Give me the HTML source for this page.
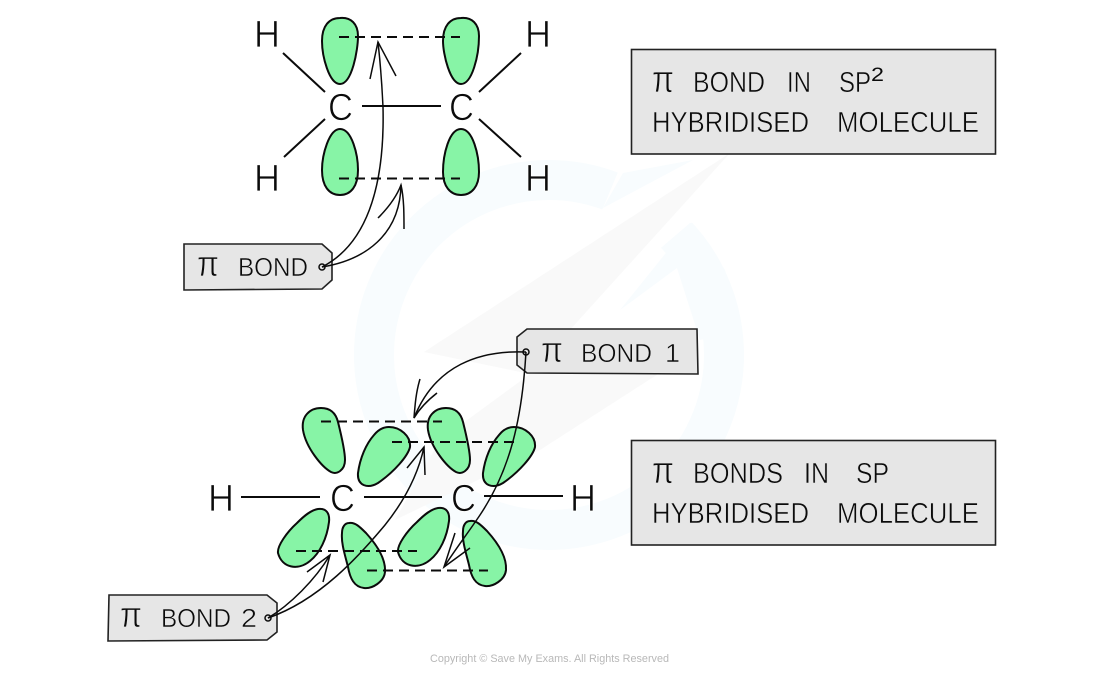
<!DOCTYPE html>
<html>
<head>
<meta charset="utf-8">
<style>
html,body{margin:0;padding:0;background:#fff;width:1100px;height:673px;overflow:hidden}
svg{display:block}
text{font-family:"Liberation Sans",sans-serif;fill:#0b0b0b}
.l{fill:#87f4a6;stroke:#0b0b0b;stroke-width:2;stroke-linejoin:round}
.b{fill:#e6e6e6;stroke:#222;stroke-width:1.6}
.s{fill:none;stroke:#0b0b0b;stroke-width:2}
.d{fill:none;stroke:#0b0b0b;stroke-width:2;stroke-dasharray:10 6}
.a{fill:none;stroke:#0b0b0b;stroke-width:1.5}
.big{font-size:38px;stroke:#fff;stroke-width:.8px}
.lab{font-size:29px;stroke:#e6e6e6;stroke-width:.5px}
.tag{font-size:26px;stroke:#e6e6e6;stroke-width:.5px}
.pi{stroke:#e6e6e6;stroke-width:.8px}
</style>
</head>
<body>
<svg width="1100" height="673" viewBox="0 0 1100 673" xmlns="http://www.w3.org/2000/svg">
<!-- watermark -->
<circle cx="549" cy="355" r="175" fill="none" stroke="#f8fcfe" stroke-width="40"/>
<polygon points="623,160 760,120 760,215 690,223 600,300 575,250 603,208" fill="#fff"/>
<polygon points="690,223 725,270 740,330 700,340 677,268" fill="#f8fcfe"/>
<polygon points="690,223 620,310 677,268" fill="#f8fcfe"/>
<polygon points="623,173 693,160 603,208" fill="#f8fcfe"/>
<polygon points="730,153 424,352 530,374" fill="#f9f9f9"/>
<polygon points="530,374 680,360 540,450 395,520 440,440" fill="#f9f9f9"/>

<!-- top molecule lobes -->
<path class="l" d="M340,18 C351,17 358,24 358,36 C358,50 352,84 340,84 C329,84 322,56 322,41 C322,26 329,18 340,18Z"/>
<path class="l" d="M461,18 C472,17 479,24 479,36 C479,56 472,84 461,84 C450,84 443,54 443,41 C443,26 450,18 461,18Z"/>
<path class="l" d="M340,129 C352,129 358,155 358,170 C358,186 351,195 340,195 C329,195 322,186 322,170 C322,155 329,129 340,129Z"/>
<path class="l" d="M461,129 C473,129 479,155 479,172 C479,186 472,195 461,195 C450,195 443,186 443,172 C443,155 449,129 461,129Z"/>
<line class="d" x1="339" y1="37" x2="460" y2="37"/>
<line class="d" x1="339" y1="178.500" x2="460" y2="178.500"/>
<path class="s" d="M283,53 L325,92 M325,119 L284,157 M362,106 L441,106 M479,92 L521,53 M479,119 L521,157"/>
<text class="big" x="254" y="47" textLength="26" lengthAdjust="spacingAndGlyphs">H</text>
<text class="big" x="254" y="191" textLength="26" lengthAdjust="spacingAndGlyphs">H</text>
<text class="big" x="525" y="47" textLength="26" lengthAdjust="spacingAndGlyphs">H</text>
<text class="big" x="525" y="191" textLength="26" lengthAdjust="spacingAndGlyphs">H</text>
<text class="big" x="328" y="120" textLength="25" lengthAdjust="spacingAndGlyphs">C</text>
<text class="big" x="449" y="120" textLength="25" lengthAdjust="spacingAndGlyphs">C</text>

<!-- top tag -->
<polygon class="b" points="184,244 322,244 332,253 332,280 322,289 184,290"/>
<text class="pi" x="197" y="276" style="font-size:36px" textLength="22" lengthAdjust="spacingAndGlyphs">π</text>
<text class="tag" x="238" y="276" textLength="70" lengthAdjust="spacingAndGlyphs">BOND</text>
<circle cx="322" cy="267" r="3" fill="none" stroke="#0b0b0b" stroke-width="1.500"/>
<path class="a" d="M322,267 C365,245 385,190 383,107 C382,85 380,60 378,42"/>
<path class="a" d="M370,79 L378,42 L396,76"/>
<path class="a" d="M322,267 C365,260 400,235 401,185"/>
<path class="a" d="M378,218 C388,208 396,198 401,185 C404,198 404,214 404,229"/>

<!-- bottom molecule lobes -->
<path class="l" d="M321,408 C331,408 336,414 338,422 C341,434 345,450 345,460 C345,470 337,475 331,472 C322,467 306,448 303,430 C301,416 310,408 321,408Z"/>
<path class="l" d="M389,427 C400,427 411,436 410,447 C408,456 394,472 378,483 C368,489 357,486 358,473 C360,458 366,444 374,435 C378,430 383,427 389,427Z"/>
<path class="l" d="M318,509 C326,508 330,513 329,522 C327,538 320,553 310,561 C298,571 282,568 278,553 C277,546 287,532 297,523 C304,516 311,510 318,509Z"/>
<path class="l" d="M349,523 C355,522 360,527 366,533 C376,544 386,558 385,572 C384,582 372,589 364,588 C354,587 350,578 348,567 C345,555 341,543 342,533 C342,527 345,523 349,523Z"/>
<g transform="translate(125,0)">
<path class="l" d="M321,408 C331,408 336,414 338,422 C341,434 345,450 345,460 C345,470 337,475 331,472 C322,467 306,448 303,430 C301,416 310,408 321,408Z"/>
<path class="l" d="M389,427 C400,427 411,436 410,447 C408,456 394,472 378,483 C368,489 357,486 358,473 C360,458 366,444 374,435 C378,430 383,427 389,427Z"/>
</g>
<path class="l" transform="translate(120,-1)" d="M318,509 C326,508 330,513 329,522 C327,538 320,553 310,561 C298,571 282,568 278,553 C277,546 287,532 297,523 C304,516 311,510 318,509Z"/>
<path class="l" transform="translate(121,-2)" d="M349,523 C355,522 360,527 366,533 C376,544 386,558 385,572 C384,582 372,589 364,588 C354,587 350,578 348,567 C345,555 341,543 342,533 C342,527 345,523 349,523Z"/>
<line class="d" x1="321" y1="421.500" x2="442" y2="421.500"/>
<line class="d" x1="392" y1="442" x2="515" y2="442"/>
<line class="d" x1="296" y1="551" x2="417" y2="551"/>
<line class="d" x1="367" y1="570.500" x2="488" y2="570.500"/>
<path class="s" d="M241,497 L320,497 M364,497 L442,497 M484,496 L563,496"/>
<text class="big" x="208" y="511" textLength="26" lengthAdjust="spacingAndGlyphs">H</text>
<text class="big" x="570" y="511" textLength="26" lengthAdjust="spacingAndGlyphs">H</text>
<text class="big" x="330" y="511" textLength="25" lengthAdjust="spacingAndGlyphs">C</text>
<text class="big" x="451" y="511" textLength="25" lengthAdjust="spacingAndGlyphs">C</text>

<!-- tag 2 -->
<polygon class="b" points="109,595 267,595 277,603 277,632 267,640 108,641"/>
<text class="pi" x="120" y="627" style="font-size:36px" textLength="22" lengthAdjust="spacingAndGlyphs">π</text>
<text class="tag" x="161" y="627" textLength="70" lengthAdjust="spacingAndGlyphs">BOND</text>
<text class="tag" x="241" y="627" textLength="16" lengthAdjust="spacingAndGlyphs">2</text>
<circle cx="268" cy="618" r="3" fill="none" stroke="#0b0b0b" stroke-width="1.500"/>
<path class="a" d="M268,618 C290,605 315,580 330,555"/>
<path class="a" d="M307,572 L330,555 L323,582"/>
<path class="a" d="M268,618 C320,600 360,555 385,525 C405,500 418,475 424,447"/>
<path class="a" d="M407,468 L424,447 L425,475"/>

<!-- tag 1 -->
<polygon class="b" points="527,329 697,329 698,374 527,373 517,365 517,337"/>
<text class="pi" x="541" y="362" style="font-size:36px" textLength="22" lengthAdjust="spacingAndGlyphs">π</text>
<text class="tag" x="581" y="362" textLength="71" lengthAdjust="spacingAndGlyphs">BOND</text>
<text class="tag" x="665" y="362" textLength="15" lengthAdjust="spacingAndGlyphs">1</text>
<circle cx="526" cy="352" r="3" fill="none" stroke="#0b0b0b" stroke-width="1.500"/>
<path class="a" d="M526,352 C480,350 435,365 414,418"/>
<path class="a" d="M420,379 C416,392 415,405 414,418 C420,408 428,400 437,393"/>
<path class="a" d="M526,352 C522,420 510,470 480,515 C470,530 455,550 444,567"/>
<path class="a" d="M455,533 L444,567 L470,548"/>

<!-- box 1 -->
<rect class="b" x="631.500" y="49.500" width="364" height="104.500"/>
<text class="pi" x="652" y="92" style="font-size:38px" textLength="22" lengthAdjust="spacingAndGlyphs">π</text>
<text class="lab" x="693" y="92" textLength="72" lengthAdjust="spacingAndGlyphs">BOND</text>
<text class="lab" x="787" y="92" textLength="24" lengthAdjust="spacingAndGlyphs">IN</text>
<text class="lab" x="839" y="92" textLength="32" lengthAdjust="spacingAndGlyphs">SP</text>
<text x="871" y="81" style="font-size:19px" textLength="13" lengthAdjust="spacingAndGlyphs">2</text>
<text class="lab" x="652" y="132" textLength="157" lengthAdjust="spacingAndGlyphs">HYBRIDISED</text>
<text class="lab" x="837" y="132" textLength="142" lengthAdjust="spacingAndGlyphs">MOLECULE</text>

<!-- box 2 -->
<rect class="b" x="631.500" y="440.500" width="364" height="104.500"/>
<text class="pi" x="652" y="483" style="font-size:38px" textLength="22" lengthAdjust="spacingAndGlyphs">π</text>
<text class="lab" x="693" y="483" textLength="90" lengthAdjust="spacingAndGlyphs">BONDS</text>
<text class="lab" x="804" y="483" textLength="25" lengthAdjust="spacingAndGlyphs">IN</text>
<text class="lab" x="856" y="483" textLength="33" lengthAdjust="spacingAndGlyphs">SP</text>
<text class="lab" x="652" y="523" textLength="157" lengthAdjust="spacingAndGlyphs">HYBRIDISED</text>
<text class="lab" x="837" y="523" textLength="142" lengthAdjust="spacingAndGlyphs">MOLECULE</text>

<text x="430" y="662" style="font-size:11px;fill:#b8b8b8" textLength="239" lengthAdjust="spacingAndGlyphs">Copyright © Save My Exams. All Rights Reserved</text>
</svg>
</body>
</html>
